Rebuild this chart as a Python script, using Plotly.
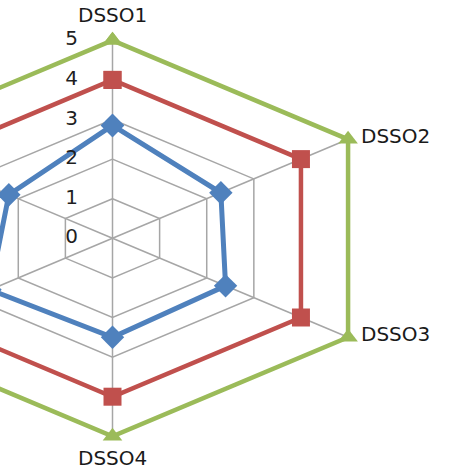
import math
import plotly.graph_objects as go

categories = ["DSSO1", "DSSO2", "DSSO3", "DSSO4", "DSSO5", "DSSO6"]
series_blue = [2.85, 2.3, 2.4, 2.5, 2.6, 2.2]
series_red = [4, 4, 4, 4, 4, 4]
series_green = [5, 5, 5, 5, 5, 5]
tick_values = [0, 1, 2, 3, 4, 5]
tick_labels = ["0", "1", "2", "3", "4", "5"]

n = len(categories)
angles = [math.pi / 2 - 2 * math.pi * i / n for i in range(n)]


def to_xy(values):
    xs = [v * math.cos(a) for v, a in zip(values, angles)]
    ys = [v * math.sin(a) for v, a in zip(values, angles)]
    return xs + xs[:1], ys + ys[:1]


fig = go.Figure()
GRID = "#a6a6a6"

# grid rings
for t in tick_values[1:]:
    gx, gy = to_xy([t] * n)
    fig.add_trace(go.Scatter(x=gx, y=gy, mode="lines",
                             line=dict(color=GRID, width=1.5),
                             hoverinfo="skip", showlegend=False))
# spokes
rmax = tick_values[-1]
for a in angles:
    fig.add_trace(go.Scatter(x=[0, rmax * math.cos(a)], y=[0, rmax * math.sin(a)],
                             mode="lines", line=dict(color=GRID, width=1.5),
                             hoverinfo="skip", showlegend=False))

series = [
    (series_blue, "#4F81BD", "diamond", 18, 5),
    (series_red, "#C0504D", "square", 18, 4.5),
    (series_green, "#9BBB59", "triangle-up", 17, 4.5),
]
for vals, col, sym, size, w in series:
    sx, sy = to_xy(vals)
    fig.add_trace(go.Scatter(x=sx, y=sy,
                             mode="lines+markers",
                             line=dict(color=col, width=w),
                             marker=dict(symbol=sym, size=size, color=col),
                             hoverinfo="skip", showlegend=False))

# radial tick labels
fig.add_trace(go.Scatter(x=[-0.75] * len(tick_values), y=tick_values,
                         mode="text", text=tick_labels,
                         textfont=dict(family="DejaVu Sans", size=20, color="#1f1f1f"),
                         hoverinfo="skip", showlegend=False))

# category labels
for cat, a in zip(categories, angles):
    cx, cy = rmax * math.cos(a), rmax * math.sin(a)
    c = math.cos(a)
    if abs(c) < 1e-6:
        xanchor, xshift = "center", 0
        yshift = 25 if cy > 0 else -22
    elif c > 0:
        xanchor, xshift, yshift = "left", 11, 3
    else:
        xanchor, xshift, yshift = "right", -11, 3
    fig.add_annotation(x=cx, y=cy, text=cat, showarrow=False,
                       xanchor=xanchor, yanchor="middle",
                       xshift=xshift, yshift=yshift,
                       font=dict(family="DejaVu Sans", size=20, color="#1a1a1a"))

fig.update_layout(
    width=474, height=474,
    margin=dict(l=0, r=0, t=0, b=0),
    paper_bgcolor="white", plot_bgcolor="white",
    xaxis=dict(range=[-2.068, 6.645], visible=False, fixedrange=True),
    yaxis=dict(range=[-5.952, 6.018], visible=False, fixedrange=True),
)

fig.write_html("out.html", config={"displayModeBar": False},
               post_script="document.body.style.margin='0';")
